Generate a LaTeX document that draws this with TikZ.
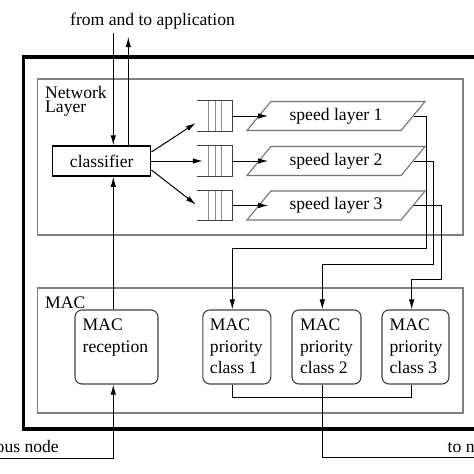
\documentclass[tikz,border=0pt]{standalone}
\usepackage{fontspec}
\setmainfont{Liberation Serif}
\usetikzlibrary{arrows.meta,shapes.geometric,calc}
\tikzset{
  txt/.style={font=\fontsize{17.6}{20}\selectfont, inner sep=0pt},
  arr/.style={line width=1pt, -{Latex[length=10pt,width=5.5pt]}},
  conn/.style={line width=1pt},
  layerbox/.style={draw=black!50, line width=1.3pt},
  outerbox/.style={draw=black, line width=3.2pt},
  clsbox/.style={draw=black, line width=1.5pt, minimum width=98pt, minimum height=30pt, font=\fontsize{17.6}{20}\selectfont},
  qbox/.style={minimum width=35pt, minimum height=30pt, inner sep=0pt},
  qedge/.style={draw=black!75, line width=1.2pt},
  qbar/.style={draw=black!45, line width=0.8pt},
  spd/.style={trapezium, trapezium left angle=50.4, trapezium right angle=129.6,
    draw=black!55, line width=1.1pt, minimum width=151pt, minimum height=29pt,
    inner sep=3pt, font=\fontsize{17.6}{20}\selectfont},
  macbox/.style={draw=black!75, line width=1.1pt, rounded corners=7pt, minimum height=74pt},
  mactxt/.style={font=\fontsize{17.6}{21.5}\selectfont, align=left, inner sep=0pt, anchor=north west},
}
\begin{document}
\begin{tikzpicture}[x=1pt,y=-1pt]
\useasboundingbox (0,0) rectangle (474,474);
\clip (0,0) rectangle (474,474);

% outer box and layer boxes
\draw[outerbox] (23.3,57) rectangle (495,429);
\draw[layerbox] (37.5,79) rectangle (463,235);
\draw[layerbox] (37.5,288) rectangle (463,413);

\node[txt, align=left, anchor=north west, font=\fontsize{17.6}{14}\selectfont] (nl) at (45,86) {Network\\Layer};
\node[txt, anchor=base west] (maclbl) at (45,308) {MAC};

% top text
\node[txt, anchor=base] (app) at (152.5,25.5) {from and to application};

% classifier
\node[clsbox] (cls) at (101.7,161) {classifier};
\coordinate (appin) at (113.3,33);
\coordinate (appout) at (128.3,37);
\draw[arr] (appin) -- (appin |- cls.north);
\draw[arr] (appout |- cls.north) -- (appout);

% queues
\foreach \i/\y in {1/116,2/161,3/205.5}{
  \node[qbox] (q\i) at (214.5,\y) {};
  \draw[qbar] ($(q\i.north west)+(12,0)$) -- ($(q\i.south west)+(12,0)$);
  \draw[qbar] ($(q\i.north west)+(18.5,0)$) -- ($(q\i.south west)+(18.5,0)$);
  \draw[qbar] ($(q\i.north west)+(25,0)$) -- ($(q\i.south west)+(25,0)$);
  \draw[qedge] (q\i.north west) -- (q\i.north east) -- (q\i.south east) -- (q\i.south west);
}

% classifier to queues
\draw[arr] ($(cls.east)+(0,-9)$) -- ($(q1.west)+(-1,7)$);
\draw[arr] (cls.east) -- ($(q2.west)+(6,0)$);
\draw[arr] ($(cls.east)+(0,9)$) -- ($(q3.west)+(-1,-1)$);

% speed layers
\node[spd] (s1) at (336,116) {speed layer 1};
\node[spd] (s2) at (336,161) {speed layer 2};
\node[spd] (s3) at (336,205.5) {speed layer 3};
\foreach \i in {1,2,3}{
  \coordinate (s\i e) at ($(s\i.top right corner)!0.5!(s\i.bottom right corner)$);
}

\draw[arr] (q1.east) -- ($(q1.east)+(36,0)$);
\draw[arr] (q2.east) -- ($(q2.east)+(36,0)$);
\draw[arr] (q3.east) -- ($(q3.east)+(36,0)$);

% MAC boxes
\node[macbox, minimum width=83pt] (rec) at (116.5,347) {};
\node[macbox, minimum width=68pt] (c1) at (236.8,347) {};
\node[macbox, minimum width=69pt] (c2) at (326.5,347) {};
\node[macbox, minimum width=67pt] (c3) at (415.5,347) {};
\node[mactxt] (trec) at ($(rec.north west)+(8,9.5)$) {MAC\\reception};
\node[mactxt] (tc1) at ($(c1.north west)+(7.5,9.5)$) {MAC\\priority\\class 1};
\node[mactxt] (tc2) at ($(c2.north west)+(8.5,9.5)$) {MAC\\priority\\class 2};
\node[mactxt] (tc3) at ($(c3.north west)+(8,9.5)$) {MAC\\priority\\class 3};

% speed layers to MAC classes
\coordinate (r1) at (426,248.5);
\coordinate (r2) at (433.5,264);
\coordinate (r3) at (441,279);
\coordinate (x1) at (232.3,248.5);
\coordinate (x2) at (322.3,264);
\coordinate (x3) at (411.7,279);
\draw[arr] (s1e) -| (r1) -- (x1) -- (x1 |- c1.north);
\draw[arr] (s2e) -| (r2) -- (x2) -- (x2 |- c2.north);
\draw[arr] (s3e) -| (r3) -- (x3) -- (x3 |- c3.north);

% MAC reception to classifier
\draw[arr] (appin |- rec.north) -- (appin |- cls.south);

% bottom connections
\coordinate (b1) at (232.3,397.3);
\coordinate (b3) at (411.7,397.3);
\draw[conn] (x1 |- c1.south) -- (b1) -- (b3) -- (x3 |- c3.south);
\coordinate (outb) at (322.3,457.5);
\coordinate (outR) at (480,457.5);
\draw[conn] (x2 |- c2.south) -- (outb) -- (outR);
\coordinate (inL) at (-6,458);
\coordinate (inb) at (113.3,458);
\draw[arr] (inL) -- (inb) -- (inb |- rec.south);

\node[txt, anchor=base east] (prev) at (59,452) {from previous node};
\node[txt, anchor=base west] (next) at (447.5,452) {to next node};
\end{tikzpicture}
\end{document}
